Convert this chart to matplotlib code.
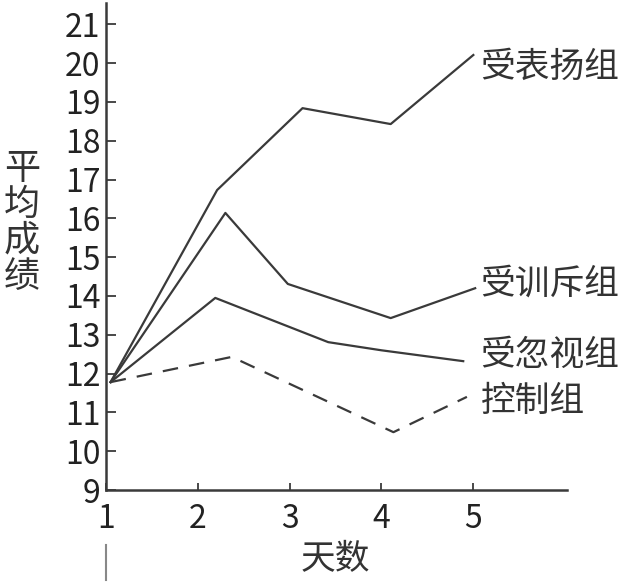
import matplotlib
matplotlib.use('Agg')
import matplotlib.pyplot as plt
from matplotlib.lines import Line2D

plt.rcParams['font.family'] = ['Noto Sans CJK SC', 'DejaVu Sans']
plt.rcParams['font.weight'] = 'medium'

# data (days are not exactly on integers)
praise_x = [1.05, 2.21, 3.14, 4.10, 5.00]
praise_y = [11.78, 16.73, 18.84, 18.43, 20.21]

scold_x = [1.05, 2.30, 2.98, 4.10, 5.02]
scold_y = [11.78, 16.14, 14.31, 13.43, 14.20]

ignore_x = [1.05, 2.19, 3.42, 4.00, 4.89]
ignore_y = [11.78, 13.95, 12.81, 12.60, 12.32]

control_x = [1.05, 2.37, 4.13, 4.93]
control_y = [11.78, 12.43, 10.49, 11.40]

group_names = ['受表扬组', '受训斥组', '受忽视组', '控制组']
label_y = [19.88, 14.31, 12.48, 11.27]

xticks = [1, 2, 3, 4, 5]
yticks = list(range(9, 22))

col = '#3a3a3a'

fig = plt.figure(figsize=(6.4, 5.82), dpi=100)
ax = fig.add_axes([106/640, 92/582, (567-106)/640, (490-3)/582])

ax.plot(praise_x, praise_y, color=col, lw=1.6)
ax.plot(scold_x, scold_y, color=col, lw=1.6)
ax.plot(ignore_x, ignore_y, color=col, lw=1.6)
ax.plot(control_x, control_y, color=col, lw=1.6, dashes=(7, 5))

for name, yy in zip(group_names, label_y):
    ax.text(5.08, yy, name, fontsize=25, color='#333333', ha='left', va='center',
            clip_on=False)

ax.set_xlim(1, 6.02)
ax.set_ylim(9, 21.55)
ax.set_xticks(xticks)
ax.set_yticks(yticks)
ax.tick_params(direction='in', colors=col, labelcolor='#222222', labelsize=23,
               width=1.3)
ax.tick_params(axis='x', length=5, pad=9)
ax.tick_params(axis='y', length=7, pad=4)

for s in ['top', 'right']:
    ax.spines[s].set_visible(False)
for s in ['left', 'bottom']:
    ax.spines[s].set_color(col)
    ax.spines[s].set_linewidth(1.8)

fig.text(335/640, 1 - 560/582, '天数', fontsize=25, color='#333333',
         ha='center', va='center')
fig.text(22/640, 1 - 223/582, '平\n均\n成\n绩', fontsize=26, color='#333333',
         ha='center', va='center', linespacing=1.0)

# faint vertical stroke under the "1" label
fig.add_artist(Line2D([106/640, 106/640], [1 - 545/582, 1 - 580/582],
                      color='#888888', lw=1.5))

fig.savefig('out.png', dpi=100)
